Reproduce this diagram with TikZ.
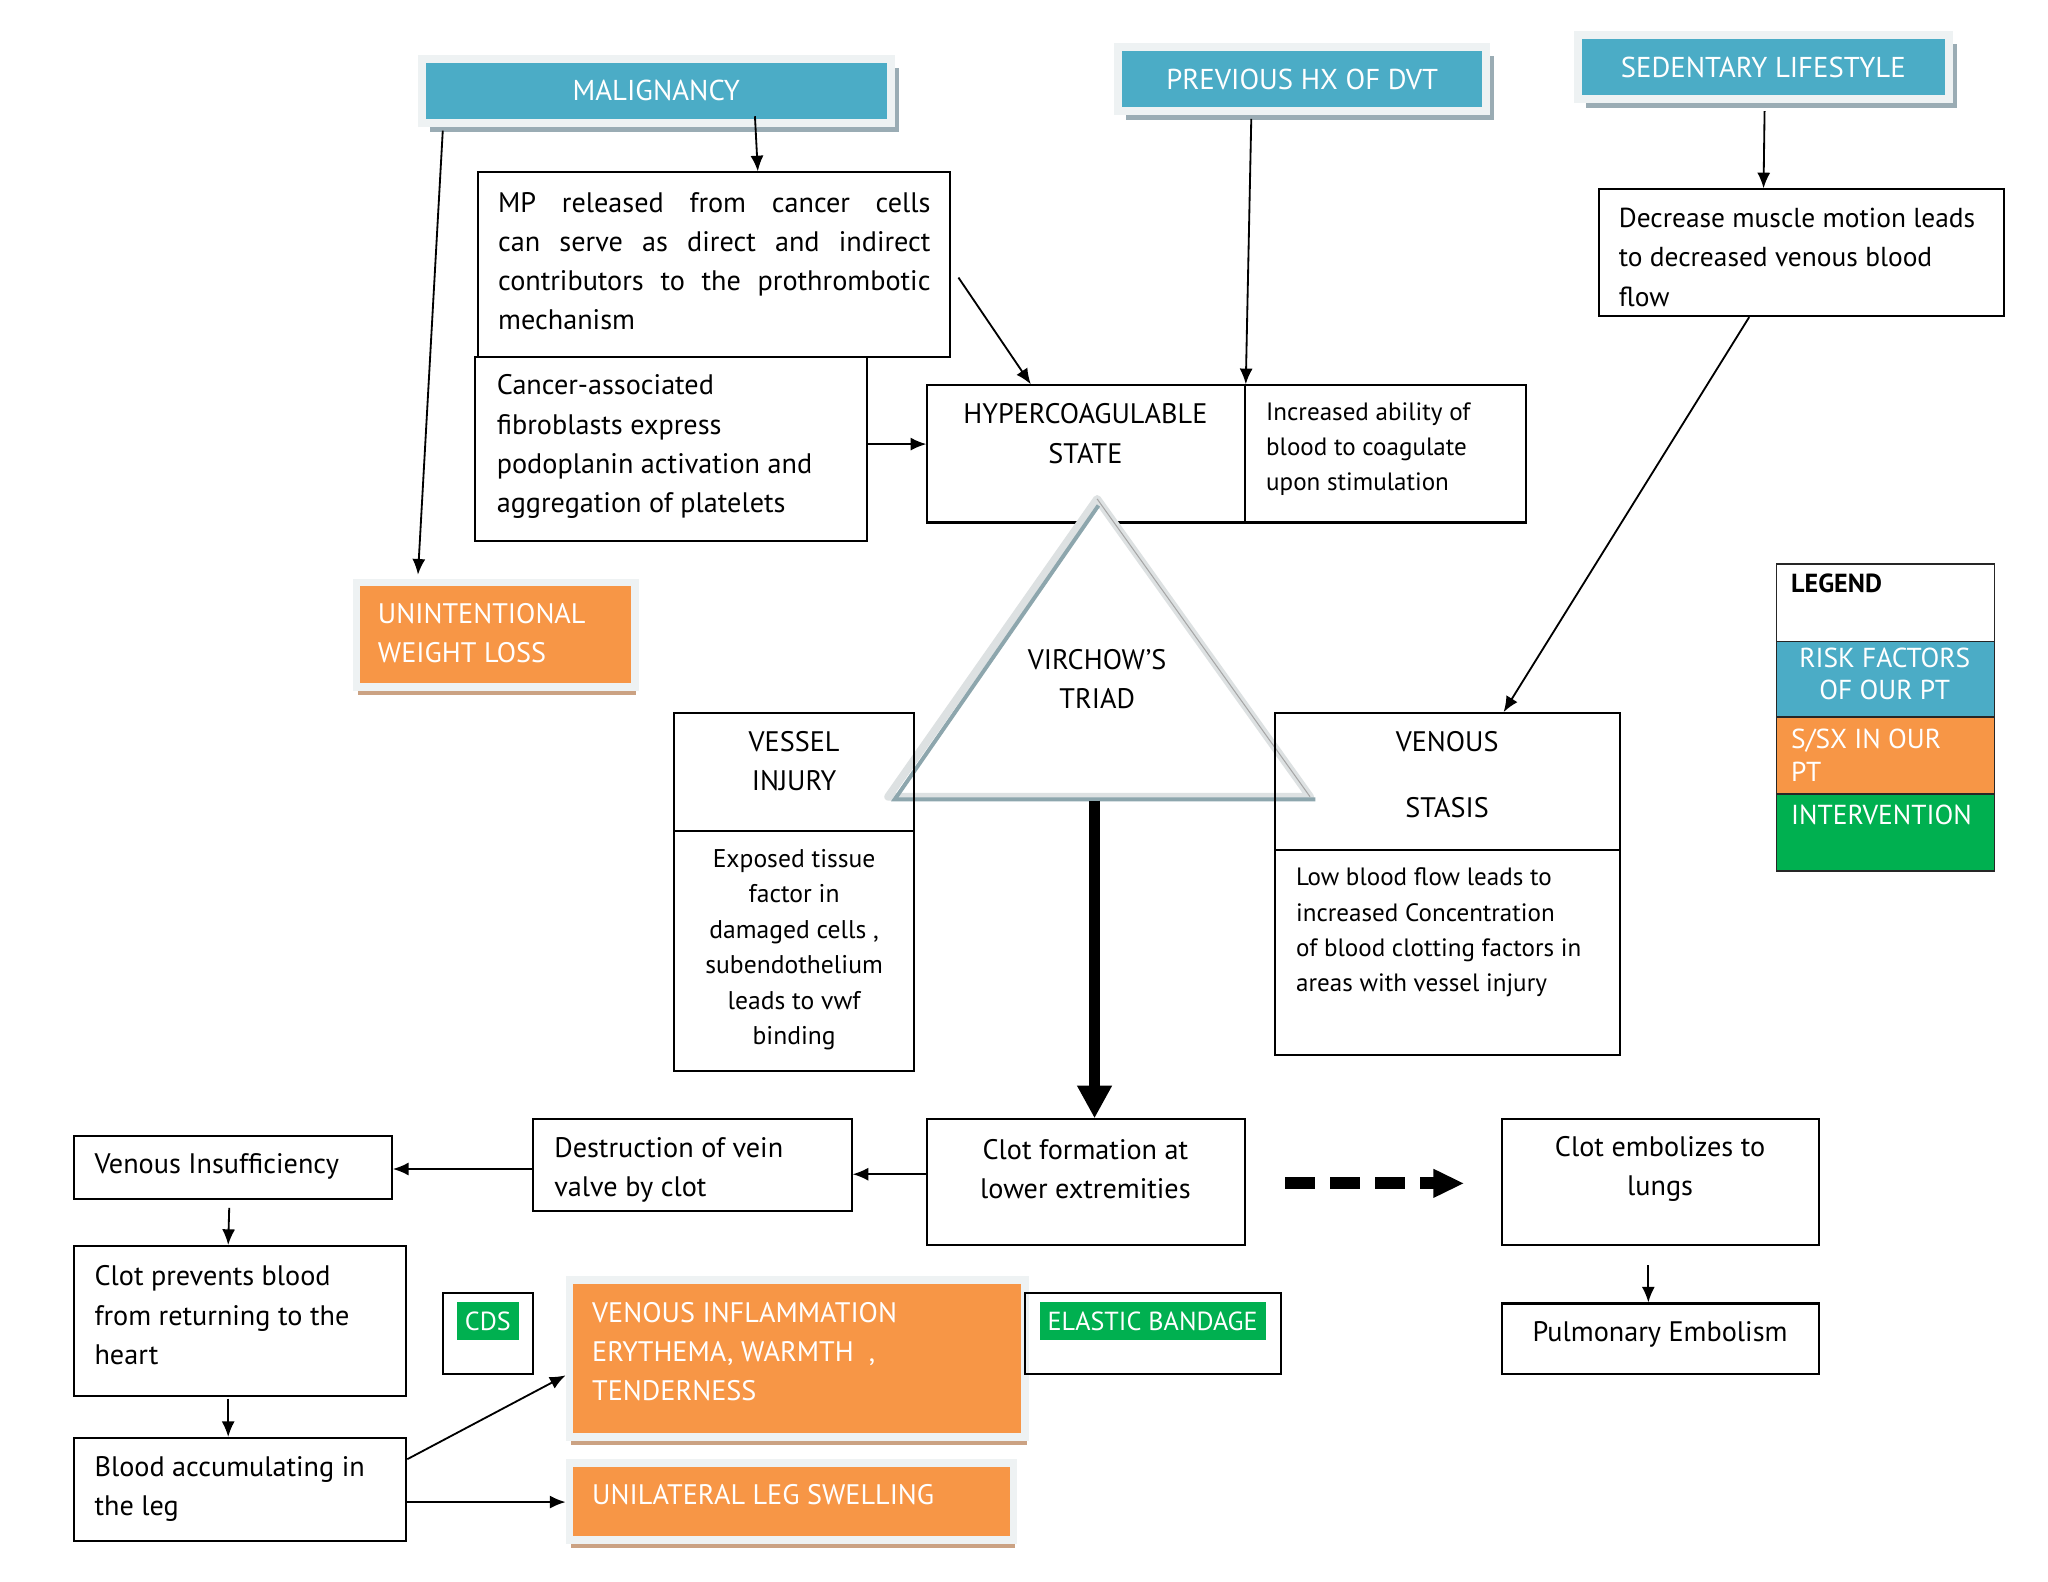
\documentclass[tikz,border=0pt]{standalone}
\usepackage{fontspec}
\setmainfont{PT Sans}
\usetikzlibrary{arrows.meta,calc,fit,shadows}

\definecolor{riskblue}{HTML}{4BACC6}
\definecolor{ssxorange}{HTML}{F79646}
\definecolor{intgreen}{HTML}{00B050}
\definecolor{framegray}{HTML}{EEF2F3}
\definecolor{blueshadow}{HTML}{9AACB4}
\definecolor{orangeshadow}{HTML}{CBA283}
\definecolor{triline}{HTML}{8DA6AD}

\tikzset{
	box/.style={draw=black, line width=0.8pt, inner sep=0pt},
	riskbox/.style={fill=riskblue, draw=framegray, line width=3pt, inner sep=0pt,
		drop shadow={shadow xshift=3pt, shadow yshift=-3.5pt, fill=blueshadow, opacity=1}},
	ssxbox/.style={fill=ssxorange, draw=framegray, line width=3pt, inner sep=0pt,
		drop shadow={shadow xshift=0.5pt, shadow yshift=-3pt, fill=orangeshadow, opacity=1}},
	intlabel/.style={fill=intgreen, inner sep=0pt},
	legrow/.style={draw=black!85, line width=0.6pt, inner sep=0pt},
	htxt/.style={inner sep=0pt, text=white, font=\fontsize{11}{14}\selectfont},
	gtxt/.style={inner sep=0pt, text=white, font=\fontsize{10}{12}\selectfont},
	mtxt/.style={inner sep=0pt, align=left, font=\fontsize{10.8}{15}\selectfont},
	stxt/.style={inner sep=0pt, align=left, font=\fontsize{9.6}{13.5}\selectfont},
	otxt/.style={mtxt, text=white},
	ltxt/.style={inner sep=0pt, align=left, text=white, font=\fontsize{10.5}{12.5}\selectfont},
	arr/.style={-{Latex[length=6pt,width=5pt]}, line width=0.7pt},
}

\begin{document}
\begin{tikzpicture}[x=0.5pt,y=-0.5pt]
	\fill[white] (0,0) rectangle (1568,1211);
	\useasboundingbox (0,0) rectangle (1568,1211);

	%risk factors
	\node[riskbox, fit={(323,45) (682,94)}] (malig) {};
	\node[htxt] at (malig.center) {MALIGNANCY};
	\node[riskbox, fit={(856,36) (1138,85)}] (dvt) {};
	\node[htxt] at (dvt.center) {PREVIOUS HX OF DVT};
	\node[riskbox, fit={(1208,27) (1492,76)}] (sed) {};
	\node[htxt] at (sed.center) {SEDENTARY LIFESTYLE};

	%hypercoagulable branch
	\node[box, fit={(366,132) (727,273)}] (mp) {};
	\node[mtxt, anchor=west, text width=165.5pt, align=justify] at (381,200)
		{\hyphenpenalty=10000 MP released from cancer cells\linebreak can serve as direct and indirect\linebreak contributors to the prothrombotic\linebreak mechanism};
	\node[box, fit={(364,273) (664,414)}] (canc) {};
	\node[mtxt, anchor=west] at (380,342) {Cancer-associated\\fibroblasts express\\podoplanin activation and\\aggregation of platelets};

	\node[box, fit={(710,295) (953,400)}] (hyper) {};
	\node[mtxt, align=center] at (831,332) {HYPERCOAGULABLE\\STATE};
	\node[box, fit={(953,295) (1168,400)}] (incr) {};
	\node[stxt, anchor=west] at (969,344) {Increased ability of\\blood to coagulate\\upon stimulation};

	\node[box, fit={(1224,145) (1534,242)}] (dec) {};
	\node[mtxt, anchor=west, font=\fontsize{10.5}{15}\selectfont] at (1239,197) {Decrease muscle motion leads\\to decreased venous blood\\flow};

	%weight loss
	\node[ssxbox, fit={(273,446) (486,526)}] (wloss) {};
	\node[otxt, anchor=west] at (289,485) {UNINTENTIONAL\\WEIGHT LOSS};

	%triad
	\coordinate (tA) at (840,382);
	\coordinate (tL) at (680,610);
	\coordinate (tR) at (1003,610);
	\coordinate (tB) at (838,613);
	\fill[white] (tA) -- (tR) -- (tL) -- cycle;
	\draw[framegray!85!gray, line width=3pt, line join=round] (tA) -- (tR) -- (tL) -- cycle;
	\draw[triline, line width=1.5pt, line join=miter] ($(tA)+(1,5)$) -- ($(tL)+(5,2)$) -- ($(tR)+(4,2)$);
	\draw[gray!70, line width=0.4pt] (tA) -- (tR);
	\node[mtxt, align=center] (triad) at (840,520) {VIRCHOW'S\\TRIAD};

	%vessel injury / venous stasis
	\node[box, fit={(516,546) (700,636)}] (vtop) {};
	\node[mtxt, align=center] at (608,583) {VESSEL\\INJURY};
	\node[box, fit={(516,636) (700,820)}] (vbot) {};
	\node[stxt, align=center, font=\fontsize{9.8}{13.6}\selectfont] at (608,727) {Exposed tissue\\factor in\\damaged cells ,\\subendothelium\\leads to vwf\\binding};
	\node[box, fit={(976,546) (1240,651)}] (stop) {};
	\node[mtxt, align=center, font=\fontsize{10.8}{25}\selectfont] at (1108,593) {VENOUS\\STASIS};
	\node[box, fit={(976,651) (1240,808)}] (sbot) {};
	\node[stxt, anchor=west] at (992,714) {Low blood flow leads to\\increased Concentration\\of blood clotting factors in\\areas with vessel injury};

	%legend
	\node[legrow, fit={(1360,432) (1527,491)}] (leg) {};
	\node[anchor=west, inner sep=0pt, font=\fontsize{10}{12}\selectfont\bfseries] at (1371,447) {LEGEND};
	\node[legrow, fill=riskblue, fit={(1360,491) (1527,549)}] (legrisk) {};
	\node[ltxt, align=center] at (1443,516) {RISK FACTORS\\OF OUR PT};
	\node[legrow, fill=ssxorange, fit={(1360,549) (1527,608)}] (legssx) {};
	\node[ltxt, anchor=west] at (1371,578) {S/SX IN OUR\\PT};
	\node[legrow, fill=intgreen, fit={(1360,608) (1527,667)}] (legint) {};
	\node[ltxt, anchor=west] at (1371,624) {INTERVENTION};

	%clot and consequences
	\node[box, fit={(710,857) (953,953)}] (clot) {};
	\node[mtxt, align=center] at (831,895) {Clot formation at\\lower extremities};
	\node[box, fit={(408,857) (652,927)}] (destr) {};
	\node[mtxt, anchor=west] at (424,896) {Destruction of vein\\valve by clot};
	\node[box, fit={(57,870) (300,918)}] (vins) {};
	\node[mtxt, anchor=west] at (72,893) {Venous Insufficiency};
	\node[box, fit={(57,954) (311,1069)}] (prevent) {};
	\node[mtxt, anchor=west] at (72,1007) {Clot prevents blood\\from returning to the\\heart};
	\node[box, fit={(57,1101) (311,1180)}] (accum) {};
	\node[mtxt, anchor=west] at (72,1140) {Blood accumulating in\\the leg};

	\node[box, fit={(339,990) (408,1052)}] (cds) {};
	\node[intlabel, fit={(350,997) (397,1026)}] (cdslab) {};
	\node[gtxt] at (cdslab.center) {CDS};
	\node[ssxbox, fit={(436,980) (785,1100)}] (infl) {};
	\node[otxt, anchor=west] at (453,1035) {VENOUS INFLAMMATION\\ERYTHEMA, WARMTH\ \ ,\\TENDERNESS};
	\node[box, fit={(785,990) (981,1052)}] (elastic) {};
	\node[intlabel, fit={(796,997) (969,1026)}] (elasticlab) {};
	\node[gtxt] at (elasticlab.center) {ELASTIC BANDAGE};
	\node[ssxbox, fit={(436,1120) (776,1179)}] (swell) {};
	\node[otxt, anchor=west] at (453,1144) {UNILATERAL LEG SWELLING};

	\node[box, fit={(1150,857) (1393,953)}] (emb) {};
	\node[mtxt, align=center] at (1271,895) {Clot embolizes to\\lungs};
	\node[box, fit={(1150,998) (1393,1052)}] (pe) {};
	\node[mtxt, align=center] at (1271,1022) {Pulmonary Embolism};

	%arrows
	\draw[arr] ($(malig.south west)+(19,3)$) -- ($(wloss.north west)+(50,-3)$);
	\draw[arr] ($(malig.south west)+(258,-8)$) -- ($(mp.north west)+(215,0)$);
	\draw[arr] ($(mp.east)+(6,10)$) -- ($(hyper.north west)+(80,0)$);
	\draw[arr] ($(canc.east)+(0,-3.5)$) -- ($(hyper.west)+(0,-7.5)$);
	\draw[arr] ($(dvt.south)+(-39,3)$) -- (hyper.north east);
	\draw[arr] ($(sed.south)+(1,6)$) -- ($(dec.north west)+(127,0)$);
	\draw[arr] ($(dec.south west)+(116,0)$) -- ($(stop.north west)+(176,0)$);

	\draw[line width=4.5pt, -{Triangle[length=12.5pt,width=12.5pt]}] (tB) -- (tB |- clot.north);
	\coordinate (dashA) at (984,906);
	\coordinate (dashB) at (1121,906);
	\draw[line width=4.5pt, dash pattern=on 11.25pt off 6pt, -{Triangle[length=11.75pt,width=10.2pt]}] (dashA) -- (dashB);

	\draw[arr] ($(clot.west)+(0,-6)$) -- ($(destr.east)+(0,7)$);
	\draw[arr] ($(destr.west)+(0,3)$) -- ($(vins.east)+(0,1)$);
	\draw[arr] ($(vins.south)+(-3,6)$) -- ($(prevent.north west)+(118.5,0)$);
	\draw[arr] ($(prevent.south west)+(118.5,1)$) -- ($(accum.north west)+(118.5,0)$);
	\draw[arr] ($(accum.north east)+(0,17)$) -- ($(infl.west)+(0,13)$);
	\draw[arr] ($(accum.east)+(0,9.5)$) -- ($(swell.west)+(0,0.5)$);
	\draw[arr] ($(emb.south)+(-9.5,15)$) -- ($(pe.north)+(-9.5,0)$);
\end{tikzpicture}
\end{document}
